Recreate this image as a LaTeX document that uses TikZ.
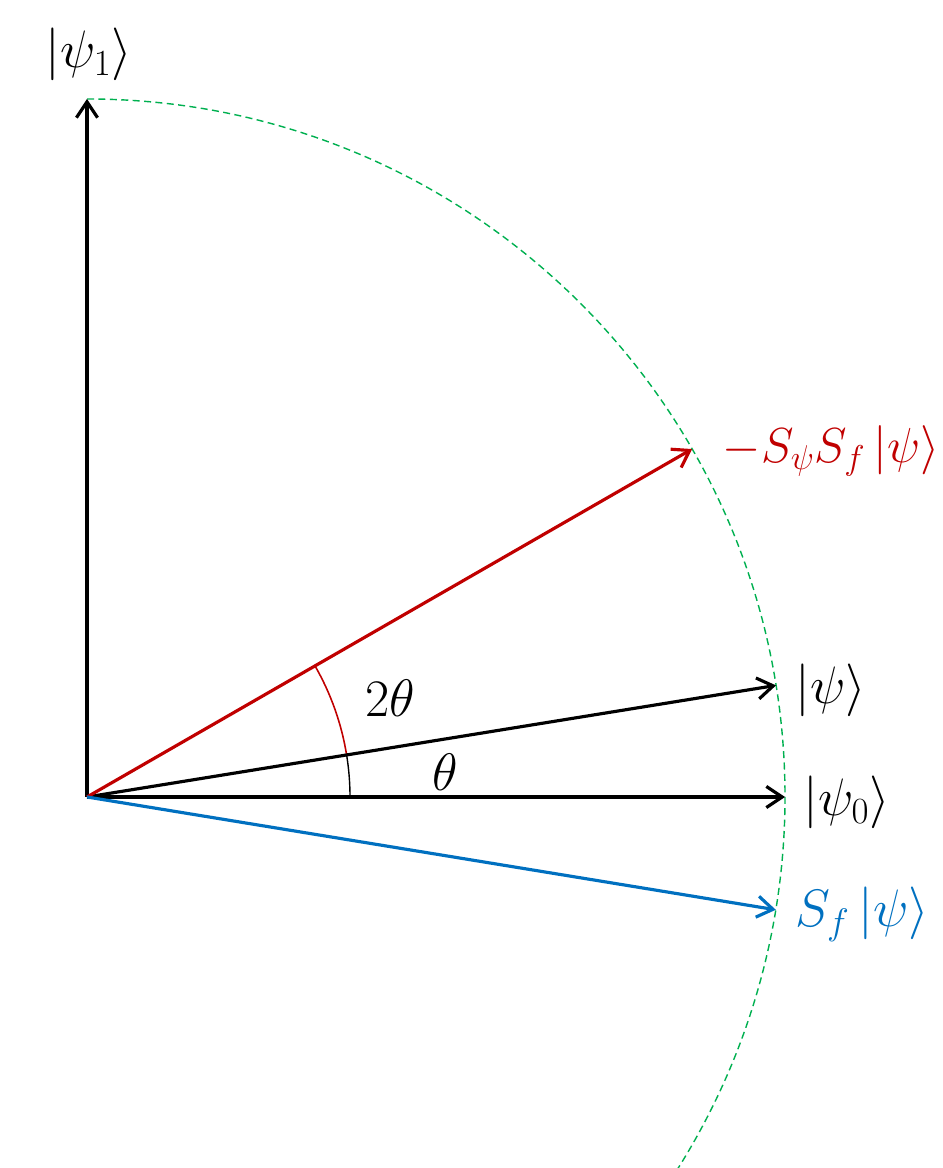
\RequirePackage{fix-cm}
\documentclass[tikz,border=0pt]{standalone}
\usetikzlibrary{arrows.meta}
\definecolor{myred}{HTML}{C00000}
\definecolor{myblue}{HTML}{0070C0}
\definecolor{mygreen}{HTML}{00B050}
\begin{document}
\begin{tikzpicture}[x=0.02cm,y=0.02cm,
  vec/.style={line width=1.8pt,-{Straight Barb[length=9pt,width=12pt,line width=1.8pt]}},
  lbl/.style={font=\fontsize{30}{36}\selectfont, inner sep=0pt},
  circ/.style={mygreen,line width=0.8pt,dash pattern=on 4pt off 2.5pt}]
\useasboundingbox (0,0) rectangle (942,1168);
\coordinate (O) at (87,371);
\def\R{698}
\begin{scope}
\clip (0,0) rectangle (942,1168);
\draw[circ] ([shift={(90:\R)}]O) arc[start angle=90,end angle=-36,radius=\R];
\end{scope}
\coordinate (P1) at ([shift={(90:\R)}]O);
\coordinate (P0) at ([shift={(0:\R)}]O);
\coordinate (P) at ([shift={(9.2:\R)}]O);
\coordinate (PR) at ([shift={(29.9:\R)}]O);
\coordinate (PB) at ([shift={(-9.3:\R)}]O);
% angle arcs
\draw[line width=0.8pt] ([shift={(0:263)}]O) arc[start angle=0,end angle=9.2,radius=263];
\draw[myred,line width=0.9pt] ([shift={(9.2:263)}]O) arc[start angle=9.2,end angle=29.9,radius=263];
% vectors
\draw[vec] (O) -- (P1);
\draw[vec] (O) -- (P0);
\draw[vec] (O) -- (P);
\draw[vec,myred] (O) -- (PR);
\draw[vec,myblue] (O) -- (PB);
% labels
\node[lbl] (l1) at (89,1114) {$|\psi_1\rangle$};
\node[lbl,anchor=west] (l) at (795,478) {$|\psi\rangle$};
\node[lbl,anchor=west] (l0) at (803,366) {$|\psi_0\rangle$};
\node[lbl,anchor=west,text=myblue] (lb) at (795,254) {$S_f\,|\psi\rangle$};
\node[lbl,anchor=east,text=myred,font=\fontsize{28}{34}\selectfont] (lr) at (940,717) {$-S_\psi S_f\,|\psi\rangle$};
\node[lbl] (t2) at (390,470) {$2\theta$};
\node[lbl] (t1) at (445,396) {$\theta$};
\end{tikzpicture}
\end{document}
